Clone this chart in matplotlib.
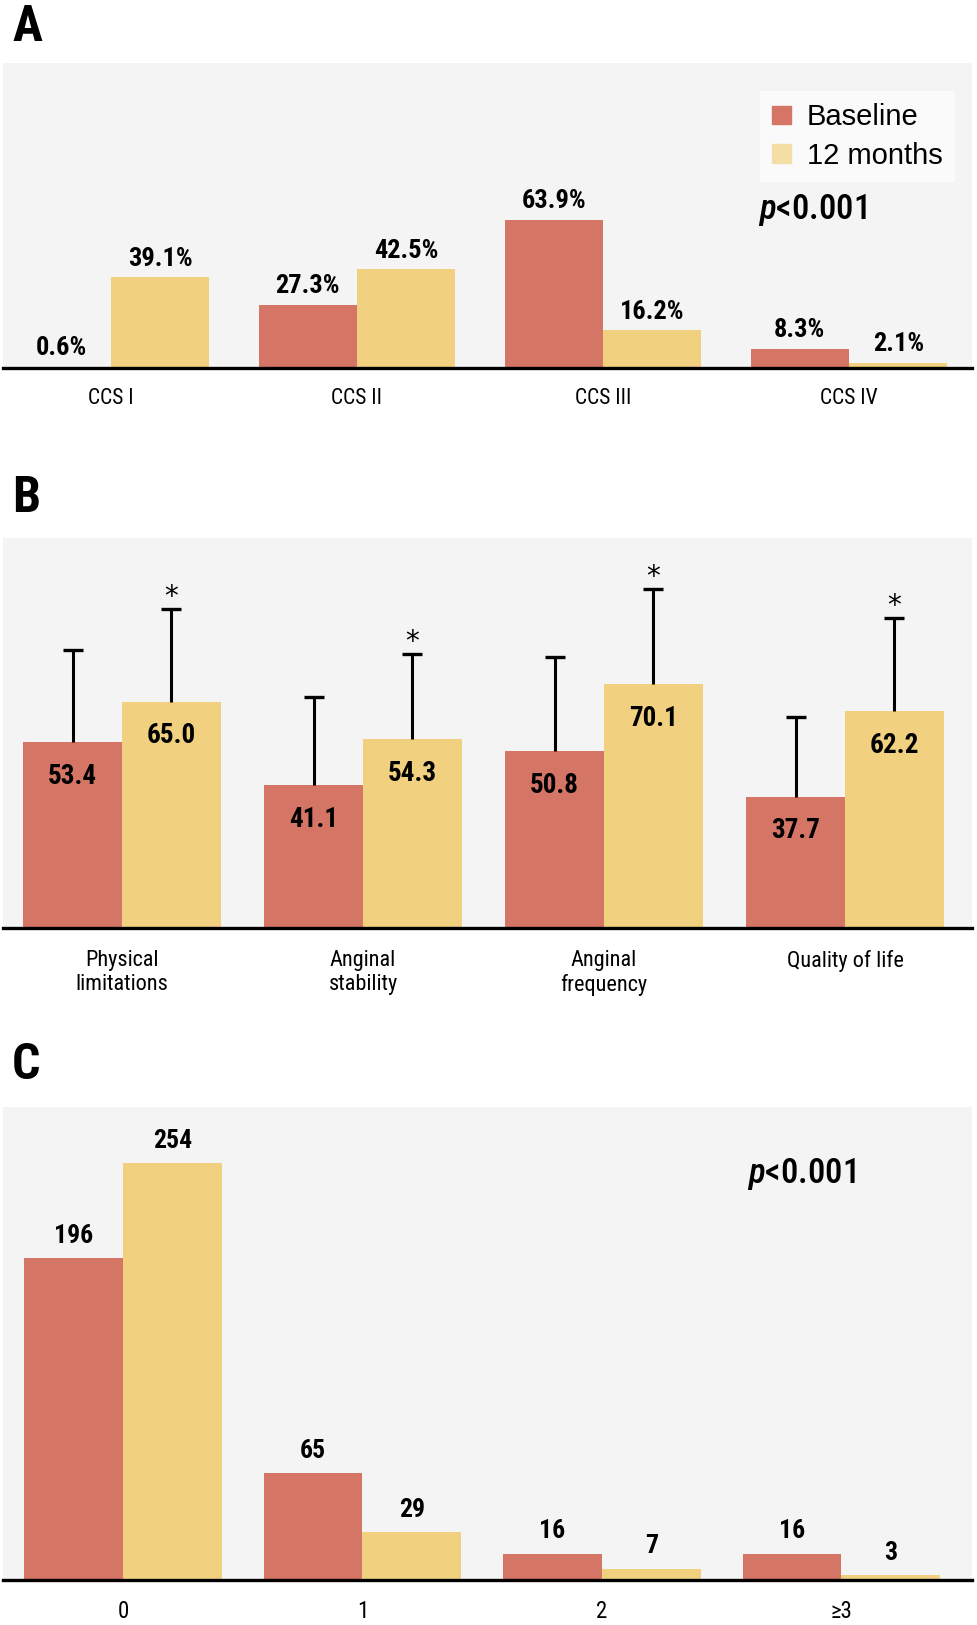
import matplotlib
matplotlib.use('Agg')
import matplotlib.pyplot as plt
from matplotlib.patches import Patch
import numpy as np

# fonts: condensed face for the figure, plain sans for the legend
COND = ['Roboto Condensed', 'Barlow Condensed', 'Archivo Narrow', 'DejaVu Sans']
PLAIN = ['Liberation Sans', 'Arial', 'DejaVu Sans']
plt.rcParams['font.family'] = COND
plt.rcParams['mathtext.fontset'] = 'custom'
plt.rcParams['mathtext.it'] = 'Roboto Condensed:italic:medium'
plt.rcParams['mathtext.rm'] = 'Roboto Condensed:medium'

RED = '#D57566'
YELLOW = '#F1D180'
BG = '#F4F4F4'

# panel A - CCS class (%)
ccs_labels = ['CCS I', 'CCS II', 'CCS III', 'CCS IV']
ccs_base = [0.6, 27.3, 63.9, 8.3]
ccs_12m = [39.1, 42.5, 16.2, 2.1]

# panel B - SAQ domains (mean, SD)
saq_labels = ['Physical\nlimitations', 'Anginal\nstability', 'Anginal\nfrequency', 'Quality of life']
saq_base = [53.4, 41.1, 50.8, 37.7]
saq_12m = [65.0, 54.3, 70.1, 62.2]
saq_base_sd = [26.5, 25.3, 27.1, 22.9]
saq_12m_sd = [26.7, 24.4, 27.3, 26.9]

# panel C - number of antianginal drugs (patients)
drug_labels = ['0', '1', '2', '\u22653']
drug_base = [196, 65, 16, 16]
drug_12m = [254, 29, 7, 3]

W, H = 977, 1625
fig = plt.figure(figsize=(W / 100, H / 100), dpi=100)


def make_ax(top, bottom):
    ax = fig.add_axes([3 / W, 1 - bottom / H, 969 / W, (bottom - top) / H])
    ax.set_facecolor(BG)
    for s in ['top', 'right', 'left']:
        ax.spines[s].set_visible(False)
    ax.spines['bottom'].set_linewidth(2.4)
    ax.spines['bottom'].set_color('black')
    ax.spines['bottom'].set_zorder(5)
    ax.set_yticks([])
    ax.tick_params(axis='x', length=0)
    return ax


def bars(ax, base, m12, width):
    x = np.arange(len(base))
    b1 = ax.bar(x - width / 2, base, width, color=RED, zorder=2)
    b2 = ax.bar(x + width / 2, m12, width, color=YELLOW, zorder=2)
    return x, b1, b2


def upper_err(ax, xs, vals, sds):
    # only the upper half of the error bar, as in the original
    _, caps, _ = ax.errorbar(xs, vals, yerr=[np.zeros(len(vals)), sds], fmt='none',
                             ecolor='black', elinewidth=2.2, capsize=7, capthick=2.4, zorder=3)
    for c in caps:
        if np.allclose(c.get_ydata(), vals):
            c.set_visible(False)


# ---------- A ----------
axA = make_ax(63, 368)
wA = 0.40
x, b1, b2 = bars(axA, ccs_base, ccs_12m, wA)
axA.set_xlim(-0.439, 3.5)
axA.set_ylim(0, 131.5)
axA.set_xticks(x, ccs_labels, fontsize=15.5)
axA.tick_params(axis='x', pad=14.5)
for rects, vals in [(b1, ccs_base), (b2, ccs_12m)]:
    for r, v in zip(rects, vals):
        axA.annotate(f'{v:.1f}%', (r.get_x() + r.get_width() / 2, v), xytext=(0, 8.5),
                     textcoords='offset points', ha='center', va='baseline',
                     fontsize=19, fontweight='bold')
axA.text(0.835, 0.49, '$p$<0.001', transform=axA.transAxes, ha='center', va='baseline',
         fontsize=25, fontweight='medium')
handles = [Patch(color=RED, label='Baseline'), Patch(color='#F3DFA6', label='12 months')]
leg = axA.legend(handles=handles, loc='upper right', bbox_to_anchor=(0.982, 0.908),
                 borderaxespad=0, frameon=True, fancybox=False, borderpad=0.42,
                 handlelength=0.62, handleheight=0.62, handletextpad=0.55, labelspacing=0.36,
                 prop={'family': PLAIN, 'size': 21})
leg.get_frame().set_facecolor('#FAFAFA')
leg.get_frame().set_edgecolor('none')
leg.get_frame().set_alpha(1)

# ---------- B ----------
axB = make_ax(538, 928)
wB = 0.41
x, b1, b2 = bars(axB, saq_base, saq_12m, wB)
axB.set_xlim(-0.494, 3.527)
axB.set_ylim(0, 112)
axB.set_xticks(x, saq_labels, fontsize=16, linespacing=1.2)
axB.tick_params(axis='x', pad=15.5)
upper_err(axB, x - wB / 2, saq_base, saq_base_sd)
upper_err(axB, x + wB / 2, saq_12m, saq_12m_sd)
for rects, vals in [(b1, saq_base), (b2, saq_12m)]:
    for r, v in zip(rects, vals):
        axB.annotate(f'{v:.1f}', (r.get_x() + r.get_width() / 2, v), xytext=(0, -30),
                     textcoords='offset points', ha='center', va='baseline',
                     fontsize=19.5, fontweight='bold', zorder=4)
for xi, v, sd in zip(x + wB / 2, saq_12m, saq_12m_sd):
    axB.annotate('*', (xi, v + sd), xytext=(0, 3), textcoords='offset points',
                 ha='center', va='baseline', fontsize=20, family='DejaVu Sans')

# ---------- C ----------
axC = make_ax(1107, 1580)
wC = 0.413
x, b1, b2 = bars(axC, drug_base, drug_12m, wC)
axC.set_xlim(-0.501, 3.545)
axC.set_ylim(0, 288)
axC.set_xticks(x, drug_labels, fontsize=16.5)
axC.tick_params(axis='x', pad=14.5)
for rects, vals in [(b1, drug_base), (b2, drug_12m)]:
    for r, v in zip(rects, vals):
        axC.annotate(f'{v}', (r.get_x() + r.get_width() / 2, v), xytext=(0, 11),
                     textcoords='offset points', ha='center', va='baseline',
                     fontsize=18.5, fontweight='bold')
axC.text(0.8235, 0.839, '$p$<0.001', transform=axC.transAxes, ha='center', va='baseline',
         fontsize=25, fontweight='medium')

# panel letters
for letter, base_y in [('A', 41), ('B', 512), ('C', 1079)]:
    fig.text(12 / W, 1 - base_y / H, letter, fontsize=36, fontweight='bold', va='baseline', ha='left')

fig.savefig('out.png', dpi=100, facecolor='white')
